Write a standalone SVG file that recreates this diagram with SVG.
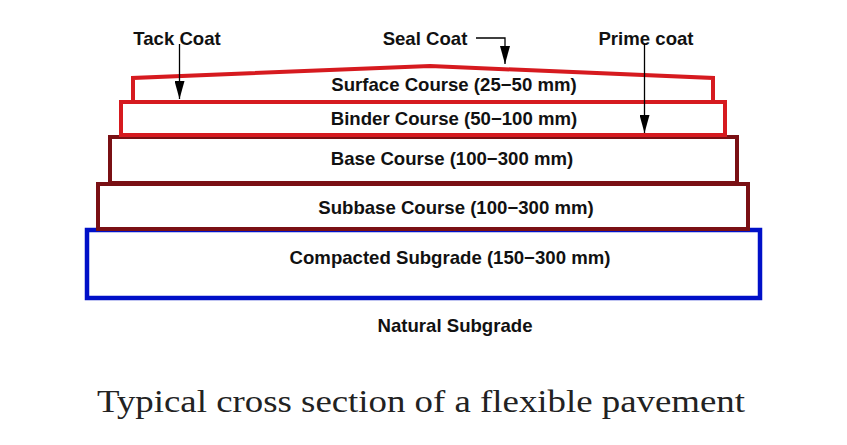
<svg xmlns="http://www.w3.org/2000/svg" width="847" height="445" viewBox="0 0 847 445">
<defs>
<style>
.lbl{font-family:"Liberation Sans",Arial,sans-serif;font-weight:bold;font-size:18.6px;fill:#111;text-anchor:middle}
.layer{fill:#fff;stroke-width:4}
.red{stroke:#d61a1f}
.dark{stroke:#7a1014}
.blue{stroke:#0010c8;stroke-width:4.5}
.conn{stroke:#000;stroke-width:1.3;fill:none}
.cap{font-family:"Liberation Serif","Times New Roman",serif;font-size:31px;fill:#222;text-anchor:middle}
</style>
<marker id="ah" markerWidth="18" markerHeight="10" refX="18" refY="5" orient="auto" markerUnits="userSpaceOnUse" viewBox="0 0 18 10">
<path d="M0,0 L18,5 L0,10 Z" fill="#000"/>
</marker>
</defs>
<rect width="847" height="445" fill="#fff"/>
<g id="compacted-subgrade">
<rect class="layer blue" x="87" y="230" width="673" height="68"/>
<text class="lbl" x="450" y="264">Compacted Subgrade (150−300 mm)</text>
</g>
<g id="subbase-course">
<rect class="layer dark" x="98" y="184" width="650" height="45"/>
<text class="lbl" x="456" y="214">Subbase Course (100−300 mm)</text>
</g>
<g id="base-course">
<rect class="layer dark" x="110" y="137" width="627" height="46"/>
<text class="lbl" x="452" y="165">Base Course (100−300 mm)</text>
</g>
<g id="binder-course">
<rect class="layer red" x="121" y="102" width="604" height="33"/>
<text class="lbl" x="454" y="125">Binder Course (50−100 mm)</text>
</g>
<g id="surface-course">
<path class="layer red" d="M133,100 L133,78 L430,66 L713,78 L713,100"/>
<text class="lbl" x="454" y="91">Surface Course (25−50 mm)</text>
</g>
<g id="tack-coat"><text class="lbl" x="177" y="45">Tack Coat</text></g>
<g id="seal-coat"><text class="lbl" x="425" y="45">Seal Coat</text></g>
<g id="prime-coat"><text class="lbl" x="646" y="45">Prime coat</text></g>
<g id="natural-subgrade"><text class="lbl" x="455" y="332">Natural Subgrade</text></g>
<g id="connectors">
<path class="conn" d="M179.5,44 L179.5,99" marker-end="url(#ah)"/>
<path class="conn" d="M476,38 L505,38 L505,64" marker-end="url(#ah)"/>
<path class="conn" d="M644.5,44 L644.5,133" marker-end="url(#ah)"/>
</g>
<text class="cap" x="421" y="412" textLength="648" lengthAdjust="spacingAndGlyphs">Typical cross section of a flexible pavement</text>
</svg>
